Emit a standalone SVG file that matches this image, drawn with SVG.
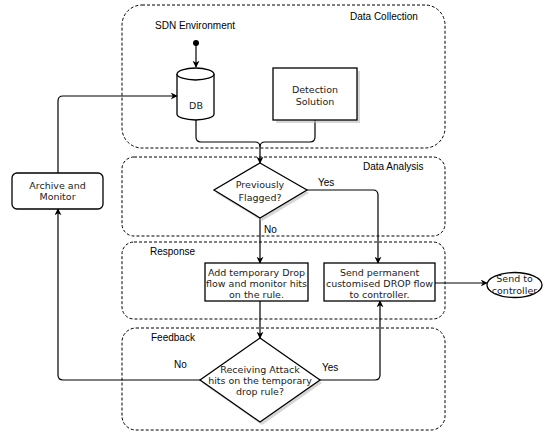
<svg xmlns="http://www.w3.org/2000/svg" width="550" height="437" viewBox="0 0 550 437">
<style>
.cont{fill:none;stroke:#000;stroke-width:1;stroke-dasharray:3,2}
.node{fill:#fff;stroke:#000;stroke-width:1.3}
.shadow{fill:#bbb;stroke:none;opacity:0.6}
.edge{fill:none;stroke:#000;stroke-width:1.2}
.lbl{font-family:"Liberation Sans",Arial,sans-serif;font-size:10px;fill:#000}
.txt{font-family:"DejaVu Sans",Verdana,sans-serif;font-size:9.5px;fill:#222;text-anchor:middle}
</style>
<defs>
<marker id="arr" viewBox="0 0 10 10" refX="9" refY="5" markerWidth="7" markerHeight="7" orient="auto" markerUnits="userSpaceOnUse">
<path d="M0,0 L10,5 L0,10 L3,5 Z" fill="#000"/>
</marker>
</defs>
<rect width="550" height="437" fill="#fff"/>
<g id="containers">
<g id="data-collection"><rect class="cont" x="122" y="5" width="323" height="143" rx="20"/><text class="lbl" x="350" y="20">Data Collection</text></g>
<g id="data-analysis"><rect class="cont" x="122" y="157" width="323" height="79" rx="12"/><text class="lbl" x="363" y="170">Data Analysis</text></g>
<g id="response"><rect class="cont" x="122" y="242" width="323" height="77" rx="12"/><text class="lbl" x="150" y="255">Response</text></g>
<g id="feedback"><rect class="cont" x="122" y="328" width="323" height="102" rx="14"/><text class="lbl" x="151" y="341">Feedback</text></g>
</g>
<g id="connectors">
<circle cx="196" cy="43" r="3" fill="#000"/>
<path class="edge" d="M196,43 V67" marker-end="url(#arr)"/>
<path class="edge" d="M196,120 V137 Q196,142 201,142 H255 Q260,142 260,147 V163" marker-end="url(#arr)"/>
<path class="edge" d="M315,120 V137 Q315,142 310,142 H265 Q260,142 260,147"/>
<path class="edge" d="M307,190 H373 Q378,190 378,195 V263" marker-end="url(#arr)"/>
<path class="edge" d="M260,218 V263" marker-end="url(#arr)"/>
<path class="edge" d="M260,301 V338" marker-end="url(#arr)"/>
<path class="edge" d="M435,283 H487" marker-end="url(#arr)"/>
<path class="edge" d="M320,380 H375 Q380,380 380,375 V301" marker-end="url(#arr)"/>
<path class="edge" d="M200,380 H63 Q58,380 58,375 V209" marker-end="url(#arr)"/>
<path class="edge" d="M58,173 V101 Q58,96 63,96 H177" marker-end="url(#arr)"/>
<text class="lbl" x="155" y="29" font-size="10.5">SDN Environment</text>
<text class="lbl" x="318" y="186">Yes</text>
<text class="lbl" x="264" y="233">No</text>
<text class="lbl" x="174" y="368">No</text>
<text class="lbl" x="322" y="371">Yes</text>
</g>
<g id="db">
<path class="node" d="M177,74 A18.5,6 0 0 1 214,74 V114 A18.5,6 0 0 1 177,114 Z"/>
<path class="node" fill="none" d="M177,74 A18.5,6 0 0 0 214,74"/>
<text class="txt" x="196" y="109">DB</text>
</g>
<g id="detection">
<rect class="shadow" x="276" y="71" width="84" height="52"/>
<rect class="node" x="273" y="68" width="84" height="52"/>
<text class="txt" x="315" y="93">Detection</text>
<text class="txt" x="315" y="105">Solution</text>
</g>
<g id="archive">
<rect class="node" x="12" y="173" width="91" height="36" rx="5"/>
<text class="txt" x="57.5" y="189">Archive and</text>
<text class="txt" x="57.5" y="200">Monitor</text>
</g>
<g id="previously-flagged">
<path class="shadow" d="M262,166 L309,193 L262,221 L216,193 Z"/>
<path class="node" d="M260,163 L307,190 L260,218 L214,190 Z"/>
<text class="txt" x="260" y="188">Previously</text>
<text class="txt" x="260" y="201">Flagged?</text>
</g>
<g id="add-temp">
<rect class="node" x="205" y="263" width="103" height="38"/>
<text class="txt" x="256.5" y="276">Add temporary Drop</text>
<text class="txt" x="256.5" y="287">flow and monitor hits</text>
<text class="txt" x="256.5" y="298">on the rule.</text>
</g>
<g id="send-perm">
<rect class="node" x="324" y="263" width="111" height="38"/>
<text class="txt" x="379.5" y="276">Send permanent</text>
<text class="txt" x="379.5" y="287">customised DROP flow</text>
<text class="txt" x="379.5" y="298">to controller.</text>
</g>
<g id="send-controller">
<ellipse class="node" cx="514.5" cy="285" rx="27.5" ry="12.5"/>
<text class="txt" x="514.5" y="282">Send to</text>
<text class="txt" x="514.5" y="294">controller</text>
</g>
<g id="receiving-attack">
<path class="shadow" d="M262,341 L322,383 L262,425 L202,383 Z"/>
<path class="node" d="M260,338 L320,380 L260,422 L200,380 Z"/>
<text class="txt" x="260" y="373">Receiving Attack</text>
<text class="txt" x="260" y="384">hits on the temporary</text>
<text class="txt" x="260" y="395">drop rule?</text>
</g>
</svg>
